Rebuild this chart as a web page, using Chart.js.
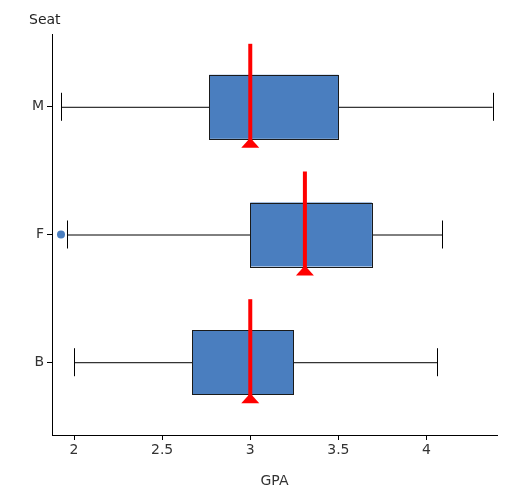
<!DOCTYPE html>
<html><head><meta charset="utf-8">
<script src="https://cdn.jsdelivr.net/npm/chart.js@4"></script>
<style>html,body{margin:0;padding:0;background:#fff}#c{display:block}</style>
</head><body>
<div style="width:528px;height:494px"><canvas id="c" width="528" height="494"></canvas></div>
<script>
const categories = ['B','F','M'];
const whiskerMin = [2.0, 1.96, 1.926];
const q1 = [2.67, 3.0, 2.767];
const q3 = [3.245, 3.69, 3.5];
const whiskerMax = [4.06, 4.09, 4.375];
const redLine = [3.0, 3.31, 3.0];
const outliers = [[], [1.926], []];
const xTicks = [2, 2.5, 3, 3.5, 4];
const FONT = {family:'DejaVu Sans', size:14};

const boxPlugin = {
  id:'box',
  afterDatasetsDraw(chart){
    const ctx = chart.ctx, xs = chart.scales.x, ys = chart.scales.y;
    categories.forEach((c,i)=>{
      const yc = ys.getPixelForValue(i);
      const X = v => xs.getPixelForValue(v);
      const h = 32, cap = 14;
      ctx.save();
      ctx.strokeStyle='#000'; ctx.lineWidth=1;
      ctx.beginPath();
      ctx.moveTo(X(whiskerMin[i]),yc+0.5); ctx.lineTo(X(q1[i]),yc+0.5);
      ctx.moveTo(X(q3[i]),yc+0.5); ctx.lineTo(X(whiskerMax[i]),yc+0.5);
      ctx.moveTo(Math.round(X(whiskerMin[i]))+0.5,yc-cap); ctx.lineTo(Math.round(X(whiskerMin[i]))+0.5,yc+cap);
      ctx.moveTo(Math.round(X(whiskerMax[i]))+0.5,yc-cap); ctx.lineTo(Math.round(X(whiskerMax[i]))+0.5,yc+cap);
      ctx.stroke();
      ctx.fillStyle='#4a7ebf';
      ctx.fillRect(X(q1[i]),yc-h,X(q3[i])-X(q1[i]),2*h);
      ctx.strokeStyle='#1a1a1a';
      ctx.strokeRect(Math.round(X(q1[i]))+0.5,Math.round(yc-h)+0.5,Math.round(X(q3[i])-X(q1[i])),2*h);
      outliers[i].forEach(v=>{
        ctx.beginPath(); ctx.fillStyle='#4a7ebf';
        ctx.arc(X(v),yc,4,0,Math.PI*2); ctx.fill();
      });
      const xr = X(redLine[i]);
      ctx.strokeStyle='#ff0000'; ctx.lineWidth=4;
      ctx.beginPath(); ctx.moveTo(xr,yc-63); ctx.lineTo(xr,yc+38); ctx.stroke();
      ctx.fillStyle='#ff0000';
      ctx.beginPath(); ctx.moveTo(xr,yc+31); ctx.lineTo(xr-9,yc+41); ctx.lineTo(xr+9,yc+41); ctx.closePath(); ctx.fill();
      ctx.restore();
    });
    ctx.save();
    ctx.fillStyle='#222'; ctx.font='14px DejaVu Sans'; ctx.textBaseline='middle';
    ctx.fillText('Seat',29,20);
    ctx.restore();
  }
};

new Chart(document.getElementById('c'),{
  type:'scatter',
  data:{datasets:[{data:[],showLine:false}]},
  options:{
    responsive:false, animation:false, devicePixelRatio:1,
    layout:{padding:{top:34,right:31,left:0,bottom:0}},
    plugins:{legend:{display:false},tooltip:{enabled:false}},
    scales:{
      x:{type:'linear',min:1.875,max:4.40,
        afterBuildTicks(s){s.ticks=xTicks.map(v=>({value:v}));},
        afterFit(s){s.height=59;},
        ticks:{color:'#333',font:FONT,padding:2,autoSkip:false,callback:v=>String(v)},
        grid:{drawOnChartArea:false,drawTicks:true,tickLength:5,color:'#000'},
        border:{color:'#000'},
        title:{display:true,text:'GPA',color:'#333',font:FONT,padding:{top:2}}},
      y:{type:'linear',min:-0.57,max:2.57,
        afterBuildTicks(s){s.ticks=categories.map((c,i)=>({value:i}));},
        afterFit(s){s.width=52;},
        ticks:{color:'#333',font:FONT,padding:3,callback:v=>categories[v]},
        grid:{drawOnChartArea:false,drawTicks:true,tickLength:5,color:'#000'},
        border:{color:'#000'}}
    }
  },
  plugins:[boxPlugin]
});
</script>
</body></html>
